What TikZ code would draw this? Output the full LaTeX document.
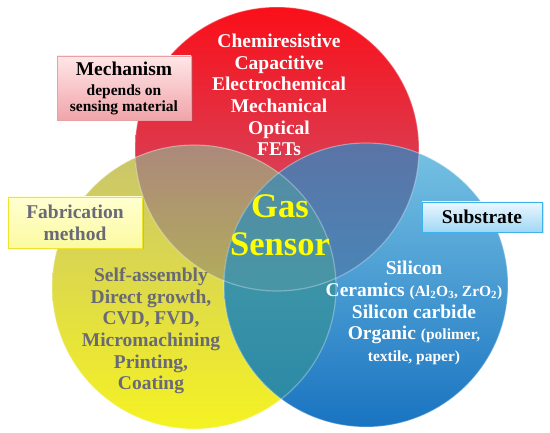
\documentclass[tikz,border=0pt]{standalone}
\usepackage{fontspec}
\setmainfont{Liberation Serif}
\usepackage{xcolor}
\usepackage{tikz}
\usetikzlibrary{shadows}

\definecolor{RedTop}{RGB}{250,15,25}
\definecolor{RedMid}{RGB}{208,72,102}
\definecolor{RedBot}{RGB}{195,95,125}
\definecolor{YelTop}{RGB}{200,196,110}
\definecolor{YelBot}{RGB}{245,242,35}
\definecolor{BluTop}{RGB}{120,195,228}
\definecolor{BluBot}{RGB}{25,115,192}
\definecolor{RYTop}{RGB}{172,135,125}
\definecolor{RYBot}{RGB}{178,175,88}
\definecolor{RBTop}{RGB}{92,115,165}
\definecolor{RBBot}{RGB}{72,135,185}
\definecolor{YBTop}{RGB}{78,160,170}
\definecolor{YBBot}{RGB}{40,135,165}
\definecolor{RYBTop}{RGB}{88,138,165}
\definecolor{RYBBot}{RGB}{70,150,165}
\definecolor{MechTop}{RGB}{255,230,232}
\definecolor{MechBot}{RGB}{240,165,170}
\definecolor{MechLine}{RGB}{232,160,165}
\definecolor{FabTop}{RGB}{255,255,210}
\definecolor{FabBot}{RGB}{252,250,160}
\definecolor{FabLine}{RGB}{238,228,45}
\definecolor{SubTop}{RGB}{235,248,255}
\definecolor{SubBot}{RGB}{160,215,245}
\definecolor{SubLine}{RGB}{60,180,235}
\definecolor{FabGray}{RGB}{105,105,120}
\definecolor{GasYellow}{RGB}{255,255,0}

\newcommand{\bigfont}{\fontsize{19.5}{21.7}\selectfont\bfseries}
\newcommand{\smallfont}{\fontsize{15.5}{16}\selectfont\bfseries}

\tikzset{
  listtext/.style={align=center, font=\bigfont},
  labelbox/.style={rectangle, align=center, line width=0.8pt,
    drop shadow={opacity=0.25, shadow xshift=1.5pt, shadow yshift=-1.5pt}},
  rim/.style={draw=white, opacity=0.3, line width=1.2pt}
}

\begin{document}
\begin{tikzpicture}[x=1pt, y=-1pt]
    \path[use as bounding box] (0,0) rectangle (550,433);

    \coordinate (R) at (277,149);
    \coordinate (Y) at (194,287);
    \coordinate (B) at (366,285);

    % the three circles
    \shade[top color=RedTop, middle color=RedMid, bottom color=RedBot] (R) circle[radius=142pt];
    \shade[top color=YelTop, bottom color=YelBot] (Y) circle[radius=142pt];
    \shade[top color=BluTop, bottom color=BluBot] (B) circle[radius=142pt];

    % overlaps
    \begin{scope}
      \clip (R) circle[radius=142pt];
      \clip (Y) circle[radius=142pt];
      \shade[top color=RYTop, bottom color=RYBot] (40,140) rectangle (300,295);
    \end{scope}
    \begin{scope}
      \clip (Y) circle[radius=142pt];
      \clip (B) circle[radius=142pt];
      \shade[top color=YBTop, bottom color=YBBot] (220,140) rectangle (340,432);
    \end{scope}
    \begin{scope}
      \clip (R) circle[radius=142pt];
      \clip (B) circle[radius=142pt];
      \shade[top color=RBTop, bottom color=RBBot] (220,140) rectangle (425,295);
    \end{scope}
    \begin{scope}
      \clip (R) circle[radius=142pt];
      \clip (Y) circle[radius=142pt];
      \clip (B) circle[radius=142pt];
      \shade[top color=RYBTop, bottom color=RYBBot] (220,140) rectangle (340,295);
    \end{scope}

    \path[rim] (R) circle[radius=142pt];
    \path[rim] (Y) circle[radius=142pt];
    \path[rim] (B) circle[radius=142pt];

    % texts in the circles
    \node[listtext, text=white] (redlist) at (279,95)
      {Chemiresistive\\ Capacitive\\ Electrochemical\\ Mechanical\\ Optical\\ FETs};
    \node[listtext, text=FabGray] (yellist) at (151,331)
      {Self-assembly\\ Direct growth,\\ CVD, FVD,\\ Micromachining\\ Printing,\\ Coating};
    \node[listtext, text=white] (blulist) at (414,313)
      {Silicon\\ Ceramics {\smallfont (Al\textsubscript{2}O\textsubscript{3}, ZrO\textsubscript{2})}\\
       Silicon carbide\\ Organic {\smallfont (polimer,}\\ {\smallfont textile, paper)}};

    \node[align=center, text=GasYellow, font=\fontsize{34.5}{38}\selectfont\bfseries] (gas) at (280,225)
      {Gas\\ Sensor};

    % the three label boxes
    \node[labelbox, draw=MechLine, top color=MechTop, bottom color=MechBot,
          minimum width=134pt, minimum height=64pt, font=\smallfont] (mech) at (124,88)
      {{\bigfont Mechanism}\\[4pt] depends on\\ sensing material};
    \node[labelbox, draw=FabLine, top color=FabTop, bottom color=FabBot,
          minimum width=134pt, minimum height=51pt, text=FabGray, font=\bigfont] (fab) at (75,222.5)
      {Fabrication\\ method};
    \node[labelbox, draw=SubLine, top color=SubTop, bottom color=SubBot,
          minimum width=120pt, minimum height=30pt, font=\bigfont] (subs) at (482,217)
      {Substrate};
\end{tikzpicture}
\end{document}
